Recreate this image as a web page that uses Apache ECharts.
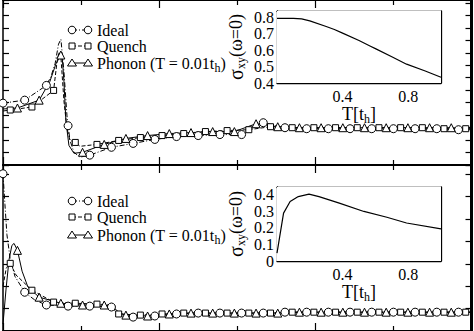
<!DOCTYPE html>
<html><head><meta charset="utf-8">
<script src="https://cdn.jsdelivr.net/npm/echarts@6/dist/echarts.min.js"></script>
<style>html,body{margin:0;padding:0;background:#fff}#c{width:474px;height:331px}</style>
</head><body><div id="c"></div>
<script>
// ---------- DATA (x in units of the main frequency axis, 0..21.6) ----------
const mainXTicks = [0, 7.2, 14.4, 21.6];
// upper panel: marker points
const topIdeal = [[0,4.96],[1,5.20],[2,6.38],[3,3.15],[4,0.79],[5,1.42],[6,1.73],[7,2.05],[8,2.28],[9,2.36],[10,2.44],[11,2.44],[12,3.39],[13,2.99],[14,2.91],[15,2.91],[16,2.91],[17,2.91],[18,2.91],[19,2.91],[20,2.91],[21,2.83]];
const topIdealExtra = [[2.21,7.09],[2.40,8.11],[2.56,9.69],[2.67,10.08],[2.81,7.48],[2.95,3.94],[3.09,1.97],[3.27,1.02],[3.55,0.63],[21.6,2.83]];
const topQuench = [[0.333,4.41],[1.333,4.65],[2.333,5.98],[3.333,1.81],[4.333,1.65],[5.333,1.97],[6.333,2.20],[7.333,2.36],[8.333,2.52],[9.333,2.68],[10.333,2.76],[11.333,2.83],[12.333,3.07],[13.333,2.99],[14.333,2.99],[15.333,2.99],[16.333,2.99],[17.333,2.99],[18.333,2.99],[19.333,2.99],[20.333,2.91],[21.333,2.91]];
const topQuenchExtra = [[0,4.33],[2.49,8.27],[2.58,9.06],[2.67,8.66],[2.81,5.12],[2.95,2.91],[3.09,1.97],[3.55,1.50],[21.6,2.91]];
const topPhonon = [[0.667,4.57],[1.667,5.20],[2.667,8.82],[3.667,1.02],[4.667,1.65],[5.667,2.13],[6.667,2.36],[7.667,2.52],[8.667,2.60],[9.667,2.68],[10.667,2.68],[11.667,3.31],[12.667,3.07],[13.667,2.99],[14.667,2.99],[15.667,2.99],[16.667,2.99],[17.667,2.99],[18.667,2.99],[19.667,2.99],[20.667,2.99]];
const topPhononExtra = [[0,4.49],[2.16,6.69],[2.44,8.11],[2.72,8.90],[2.81,6.69],[2.90,3.54],[3.04,1.57],[3.27,0.94],[21.6,2.91]];
// lower panel
const botIdeal = [[0,7.02],[1,1.73],[2,1.16],[3,1.11],[4,1.11],[5,1.07],[6,0.62],[7,0.67],[8,0.76],[9,0.80],[10,0.80],[11,0.80],[12,0.80],[13,0.84],[14,0.84],[15,0.84],[16,0.84],[17,0.84],[18,0.84],[19,0.84],[20,0.84],[21,0.84]];
const botIdealExtra = [[0.09,5.64],[0.18,4.31],[0.32,3.29],[0.55,2.44],[1.47,1.38],[5.2,0.84],[5.48,0.67],[21.6,0.84]];
const botQuench = [[0.333,3.02],[1.333,1.82],[2.333,1.29],[3.333,1.24],[4.333,1.20],[5.333,0.76],[6.333,0.71],[7.333,0.76],[8.333,0.80],[9.333,0.80],[10.333,0.80],[11.333,0.80],[12.333,0.80],[13.333,0.84],[14.333,0.84],[15.333,0.84],[16.333,0.84],[17.333,0.84],[18.333,0.84],[19.333,0.84],[20.333,0.84],[21.333,0.84]];
const botQuenchExtra = [[0,2.0],[0.15,2.8],[0.6,2.5],[5.02,1.16],[21.6,0.84]];
const botPhonon = [[0.667,3.60],[1.667,1.51],[2.667,1.24],[3.667,1.16],[4.667,1.16],[5.667,0.71],[6.667,0.67],[7.667,0.76],[8.667,0.80],[9.667,0.80],[10.667,0.80],[11.667,0.80],[12.667,0.80],[13.667,0.84],[14.667,0.84],[15.667,0.84],[16.667,0.84],[17.667,0.84],[18.667,0.84],[19.667,0.84],[20.667,0.84]];
const botPhononExtra = [[0,0.31],[0.14,1.87],[0.28,3.20],[0.41,3.82],[0.51,3.91],[0.88,2.67],[1.15,1.96],[5.02,1.11],[5.39,0.80],[21.6,0.84]];
// insets: sigma_xy(omega=0) vs T
const insetTopT = [0,0.1,0.15,0.2,0.3,0.35,0.4,0.5,0.57,0.6,0.7,0.79,0.9,1.0];
const insetTopS = [0.795,0.795,0.792,0.78,0.745,0.727,0.705,0.66,0.625,0.61,0.56,0.515,0.475,0.435];
const insetBotT = [0,0.04,0.08,0.13,0.195,0.256,0.38,0.53,0.67,0.79,1.0];
const insetBotS = [0.048,0.29,0.36,0.39,0.405,0.39,0.35,0.30,0.265,0.23,0.195];
const legendNames = ['{m|Ideal}', '{m|Quench}', '{m|Phonon (T = 0.01t}{s|h}{m|)}'];
const insetYTop = [0.4, 0.84];
const insetYBot = [0, 0.448];

// ---------- CHART ----------
const FONT = "'Liberation Serif', 'Times New Roman', serif";
const chart = echarts.init(document.getElementById('c'), null, {renderer: 'svg'});

function lineData(markers, extra) {
  const items = markers.map(p => ({value: p}))
    .concat(extra.map(p => ({value: p, symbol: 'none'})));
  items.sort((a, b) => a.value[0] - b.value[0]);
  return items;
}
const symStyle = {color: '#fff', borderColor: '#000', borderWidth: 1};
const dashes = {Ideal: [5, 2, 1, 2], Quench: [4, 2], Phonon: 'solid'};

function mainX(grid, pos) {
  return {gridIndex: grid, type: 'value', position: pos, min: mainXTicks[0], max: mainXTicks[mainXTicks.length-1], interval: 7.2,
    axisLine: {show: true, onZero: false, lineStyle: {color: '#000', width: 2}},
    axisTick: {show: true, inside: true, length: 8, lineStyle: {color: '#000', width: 1.2}},
    minorTick: {show: true, splitNumber: 2, length: 5, lineStyle: {color: '#000', width: 1.2}},
    axisLabel: {show: false}, splitLine: {show: false}, minorSplitLine: {show: false}};
}
function mainY(grid, pos, max, w) {
  return {gridIndex: grid, type: 'value', position: pos, min: 0, max: max, interval: 1,
    axisLine: {show: true, onZero: false, lineStyle: {color: '#000', width: w}},
    axisTick: {show: true, inside: true, length: 6, lineStyle: {color: '#000', width: 1.2}},
    axisLabel: {show: false}, splitLine: {show: false}};
}
const sub = {fontSize: 12, fontFamily: FONT, color: '#000', padding: [10, 0, 0, 0]};
function insetX(grid, pos, withLabels) {
  return {gridIndex: grid, type: 'value', position: pos, min: 0, max: 1, interval: 0.4,
    axisLine: {show: true, onZero: false, lineStyle: {color: '#000', width: 1.3}},
    axisTick: {show: true, inside: true, length: 6, lineStyle: {color: '#000', width: 1}},
    minorTick: {show: true, splitNumber: 3, length: 4, lineStyle: {color: '#000', width: 1}},
    axisLabel: {show: withLabels, margin: 5, fontFamily: FONT, fontSize: 16, color: '#000',
      formatter: v => (Math.abs(v - 0.4) < 1e-6 || Math.abs(v - 0.8) < 1e-6) ? String(v) : ''},
    name: withLabels ? '{m|T[t}{s|h}{m|]}' : '', nameLocation: 'middle', nameGap: 18,
    nameTextStyle: {rich: {m: {fontSize: 18, fontFamily: FONT, color: '#000'}, s: sub}},
    splitLine: {show: false}};
}
function insetY(grid, pos, range, withLabels) {
  return {gridIndex: grid, type: 'value', position: pos, min: range[0], max: range[1], interval: 0.1,
    axisLine: {show: true, onZero: false, lineStyle: {color: '#000', width: 1.3}},
    axisTick: {show: true, inside: true, length: 6, lineStyle: {color: '#000', width: 1}},
    minorTick: {show: true, splitNumber: 2, length: 4, lineStyle: {color: '#000', width: 1}},
    axisLabel: {show: withLabels, margin: 3, fontFamily: FONT, fontSize: 16, color: '#000', showMaxLabel: false,
      formatter: v => v > range[1] - 0.02 ? '' : String(Math.round(v * 10) / 10)},
    name: withLabels ? '{g|σ}{s|xy}{m|(ω=0)}' : '', nameLocation: 'middle', nameGap: 30,
    nameTextStyle: {rich: {m: {fontSize: 18, fontFamily: FONT, color: '#000'}, g: {fontSize: 20, fontFamily: FONT, color: '#000'}, s: sub}},
    splitLine: {show: false}};
}
function mainSeries(name, markers, extra, sym, size, xi, yi) {
  return {type: 'line', name: name, xAxisIndex: xi, yAxisIndex: yi, data: lineData(markers, extra),
    symbol: sym, symbolSize: size, showAllSymbol: true, itemStyle: symStyle,
    lineStyle: {color: '#000', width: 1, type: dashes[name]}, z: 3};
}
function zipXY(xs, ys) { return xs.map((x, i) => [x, ys[i]]); }

// legend drawn with graphic elements
function legendGraphics(rowsY) {
  const els = [];
  const syms = ['circle', 'rect', 'triangle'];
  const dashArr = [[5, 2, 1, 2], [4, 2], null];
  rowsY.forEach((y, i) => {
    els.push({type: 'line', shape: {x1: 72, y1: y, x2: 88, y2: y}, style: {stroke: '#000', lineWidth: 1, lineDash: dashArr[i]}, z: 10});
    [72, 88].forEach(cx => {
      if (syms[i] === 'circle') els.push({type: 'circle', shape: {cx: cx, cy: y, r: 3.8}, style: {fill: '#fff', stroke: '#000', lineWidth: 1}, z: 11});
      else if (syms[i] === 'rect') els.push({type: 'rect', shape: {x: cx - 3, y: y - 3, width: 6, height: 6}, style: {fill: '#fff', stroke: '#000', lineWidth: 1}, z: 11});
      else els.push({type: 'polygon', shape: {points: [[cx, y - 4], [cx + 4.5, y + 3], [cx - 4.5, y + 3]]}, style: {fill: '#fff', stroke: '#000', lineWidth: 1}, z: 11});
    });
    els.push({type: 'text', x: 97, y: y, z: 11, style: {text: legendNames[i], fill: '#000', fontSize: 16, fontFamily: FONT, verticalAlign: 'middle',
      rich: {m: {fontSize: 16, fontFamily: FONT, fill: '#000'}, s: {fontSize: 12, fontFamily: FONT, fill: '#000', padding: [10, 0, 0, 0]}}}});
  });
  return els;
}

chart.setOption({
  animation: false,
  backgroundColor: '#fff',
  grid: [
    {left: 3, right: 2.5, top: -3, height: 168},
    {left: 3, right: 2.5, top: 165, height: 167},
    {left: 277, top: 11, width: 164, height: 72, show: true, backgroundColor: '#fff', borderWidth: 0, z: 5},
    {left: 277, top: 187, width: 164, height: 74, show: true, backgroundColor: '#fff', borderWidth: 0, z: 5}
  ],
  xAxis: [mainX(0, 'bottom'), mainX(0, 'top'), mainX(1, 'bottom'), mainX(1, 'top'),
          insetX(2, 'bottom', true), insetX(2, 'top', false), insetX(3, 'bottom', true), insetX(3, 'top', false)],
  yAxis: [mainY(0, 'left', 13.23, 1.5), mainY(0, 'right', 13.23, 3), mainY(1, 'left', 7.41, 1.5), mainY(1, 'right', 7.41, 3),
          insetY(2, 'left', insetYTop, true), insetY(2, 'right', insetYTop, false), insetY(3, 'left', insetYBot, true), insetY(3, 'right', insetYBot, false)],
  series: [
    mainSeries('Ideal', topIdeal, topIdealExtra, 'circle', 8, 0, 0),
    mainSeries('Quench', topQuench, topQuenchExtra, 'rect', 6, 0, 0),
    mainSeries('Phonon', topPhonon, topPhononExtra, 'triangle', 8, 0, 0),
    mainSeries('Ideal', botIdeal, botIdealExtra, 'circle', 8, 2, 2),
    mainSeries('Quench', botQuench, botQuenchExtra, 'rect', 6, 2, 2),
    mainSeries('Phonon', botPhonon, botPhononExtra, 'triangle', 8, 2, 2),
    {type: 'line', xAxisIndex: 4, yAxisIndex: 4, data: zipXY(insetTopT, insetTopS), symbol: 'none', lineStyle: {color: '#000', width: 1.2}, z: 6},
    {type: 'line', xAxisIndex: 6, yAxisIndex: 6, data: zipXY(insetBotT, insetBotS), symbol: 'none', lineStyle: {color: '#000', width: 1.2}, z: 6}
  ],
  graphic: legendGraphics([30, 46, 63]).concat(legendGraphics([201, 217, 235]))
});
</script></body></html>
